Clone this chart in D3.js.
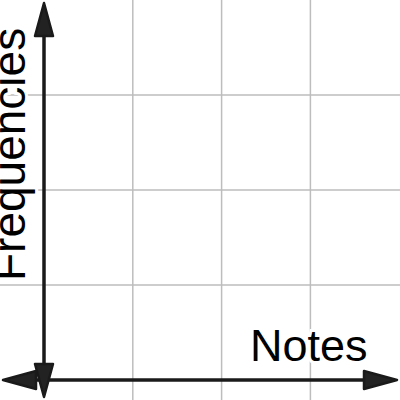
<!DOCTYPE html>
<html>
<head>
<meta charset="utf-8">
<script src="https://cdn.jsdelivr.net/npm/d3@7"></script>
<style>
  body { margin: 0; background: #fff; }
  text { font-family: "Liberation Sans", Arial, sans-serif; }
</style>
</head>
<body>
<svg id="chart" width="400" height="400"></svg>
<script>
// grid ticks (empty graph paper)
const xTicks = [1, 2, 3]
const yTicks = [1, 2, 3]
const xLabel = "Notes"
const yLabel = "Frequencies"

const width = 400, height = 400

const svg = d3.select("#chart")

// origin sits at (44, 380); one unit = ~88.8px across, 95px up
const x = d3.scaleLinear().domain([0, 4]).range([44, 399.2])
const y = d3.scaleLinear().domain([0, 4]).range([380, 0])

const grid = svg.append("g").attr("stroke", "#bdbdbd").attr("stroke-width", 1.5)

grid.selectAll(".vx").data(xTicks).join("line")
    .attr("x1", d => x(d)).attr("x2", d => x(d))
    .attr("y1", 0).attr("y2", height)

grid.selectAll(".hy").data(yTicks).join("line")
    .attr("y1", d => y(d)).attr("y2", d => y(d))
    .attr("x1", 0).attr("x2", width)

// axes
const axisColor = "#1a1a1a"
const axes = svg.append("g").attr("stroke", axisColor).attr("stroke-width", 3.5)
axes.append("line")
    .attr("x1", 20).attr("x2", width - 20)
    .attr("y1", y(0)).attr("y2", y(0))
axes.append("line")
    .attr("x1", x(0)).attr("x2", x(0))
    .attr("y1", 20).attr("y2", height - 20)

// arrow heads, tip + direction
function arrow(tx, ty, dx, dy) {
    var len = 33, half = 9
    var bx = tx - dx * len, by = ty - dy * len
    var px = -dy * half, py = dx * half
    return "M" + tx + "," + ty +
        "L" + (bx + px) + "," + (by + py) +
        "L" + (bx - px) + "," + (by - py) + "Z"
}

var heads = [
    [x(0), 3, 0, -1],
    [x(0), height - 3, 0, 1],
    [3, y(0), -1, 0],
    [width - 3, y(0), 1, 0]
]

svg.append("g").selectAll("path").data(heads).join("path")
    .attr("d", d => arrow(d[0], d[1], d[2], d[3]))
    .attr("fill", "#222")
    .attr("stroke", axisColor)
    .attr("stroke-width", 2.5)
    .attr("stroke-linejoin", "round")

// labels with a white halo
svg.append("text")
    .attr("x", 250).attr("y", 361)
    .attr("font-size", 45)
    .attr("fill", "#000")
    .attr("stroke", "#fff").attr("stroke-width", 6)
    .attr("paint-order", "stroke")
    .text(xLabel)

svg.append("text")
    .attr("transform", "translate(25,281) rotate(-90)")
    .attr("font-size", 46)
    .attr("fill", "#000")
    .attr("stroke", "#fff").attr("stroke-width", 6)
    .attr("paint-order", "stroke")
    .text(yLabel)
</script>
</body>
</html>
